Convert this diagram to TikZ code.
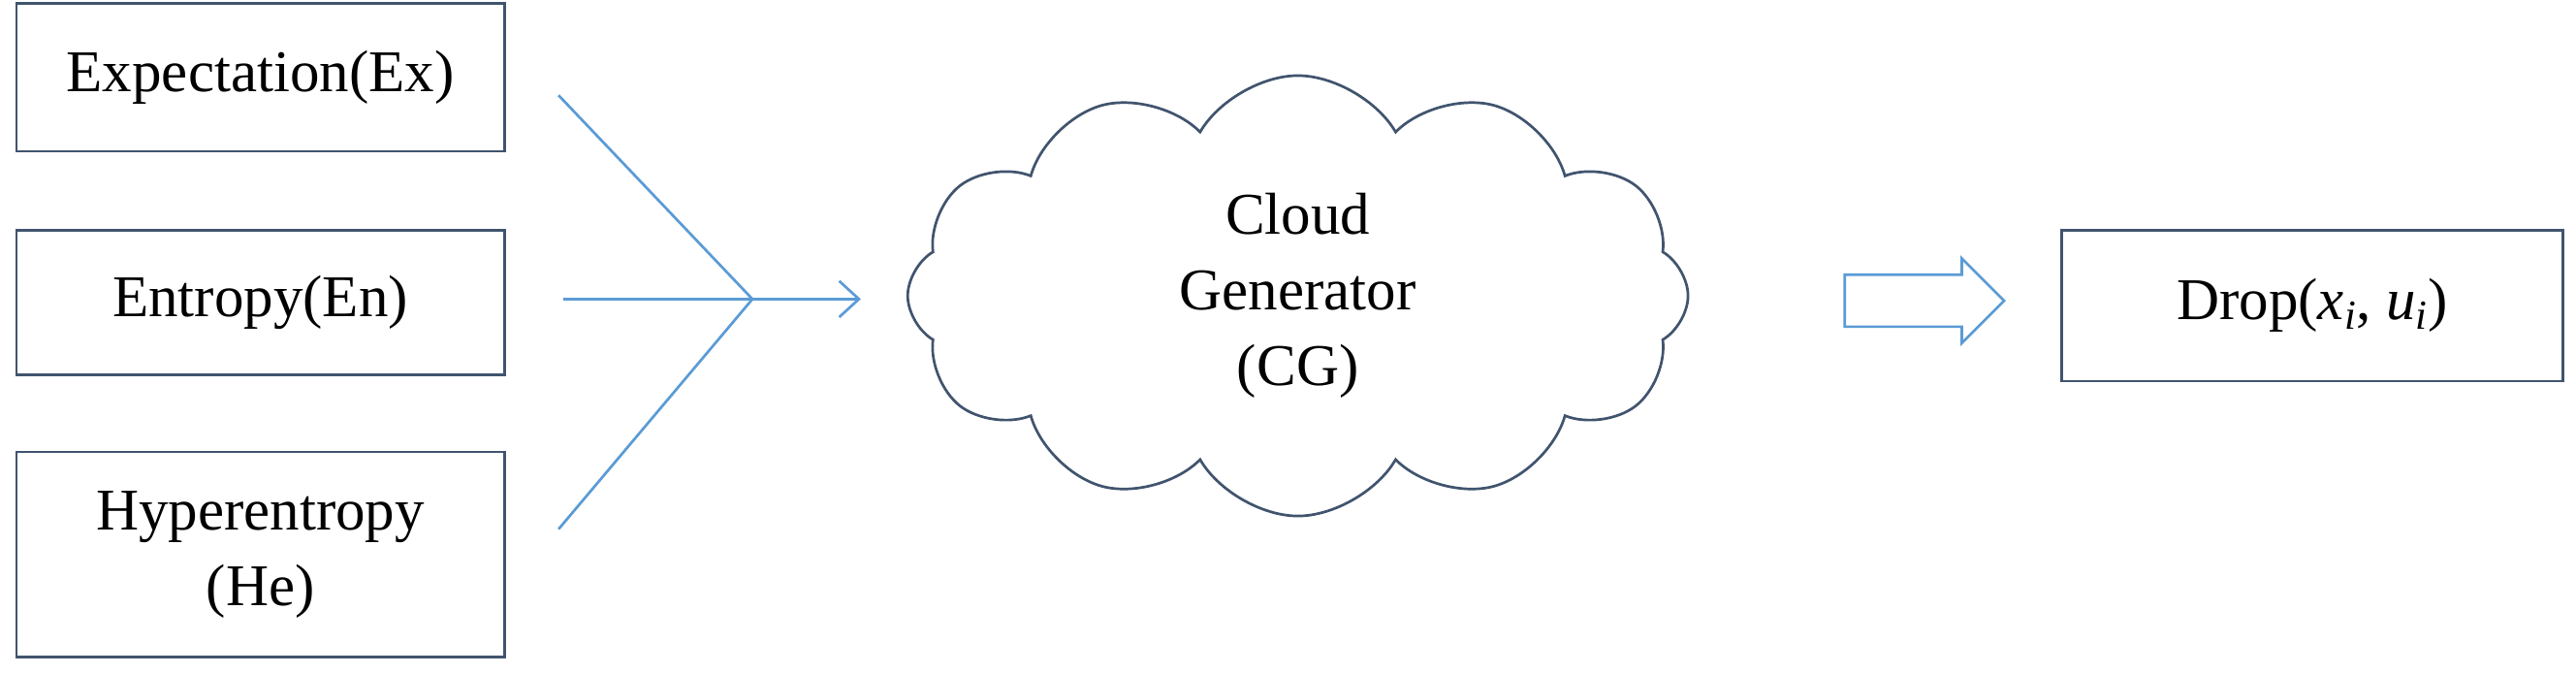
\documentclass[tikz,border=0pt]{standalone}
\usepackage{fix-cm}
\usepackage{fontspec}
\setmainfont{Liberation Serif}
\usetikzlibrary{shapes.symbols,shapes.arrows,arrows.meta}
\definecolor{lblue}{RGB}{91,155,213}
\definecolor{bord}{RGB}{65,84,110}
\begin{document}
\begin{tikzpicture}[x=1pt,y=-1pt,
  box/.style={draw=bord,line width=1.6pt,fill=white,align=center,font=\fontsize{36}{46}\selectfont},
  conn/.style={draw=lblue,line width=1.6pt}]
\useasboundingbox (0,0) rectangle (1568,410);
\node[box,minimum width=297,minimum height=90] (ex) at (158.5,47) {Expectation(Ex)};
\node[box,minimum width=297,minimum height=88] (en) at (158.5,184) {Entropy(En)};
\node[box,minimum width=297,minimum height=125] (he) at (158.5,337.5) {Hyperentropy\\(He)};
\node[box,minimum width=305,minimum height=92] (drop) at (1407.5,186) {Drop(\textit{x}\textsubscript{\textit{i}}, \textit{u}\textsubscript{\textit{i}})};
\coordinate (j) at (458,182);
\coordinate (a1) at (340,58);
\coordinate (a2) at (343,182);
\coordinate (a3) at (340,322);
\coordinate (ae) at (524,182);
\node[cloud,cloud puffs=12,cloud puff arc=120,aspect=1.9,draw=bord,line width=1.6pt,
  minimum width=475,minimum height=268,align=center,font=\fontsize{36}{46}\selectfont] (cg) at (790,180) {Cloud\\Generator\\(CG)};
\draw[conn] (a1) -- (j) -- (a3);
\draw[conn,-{Straight Barb[length=12pt,width=22pt]}] (a2) -- (ae);
\node[single arrow,draw=lblue,line width=1.6pt,minimum width=50,single arrow head extend=10,
  minimum height=97,inner xsep=0pt,inner ysep=15pt,single arrow head indent=0pt] (ar) at (1163.5,183) {};
\end{tikzpicture}
\end{document}
